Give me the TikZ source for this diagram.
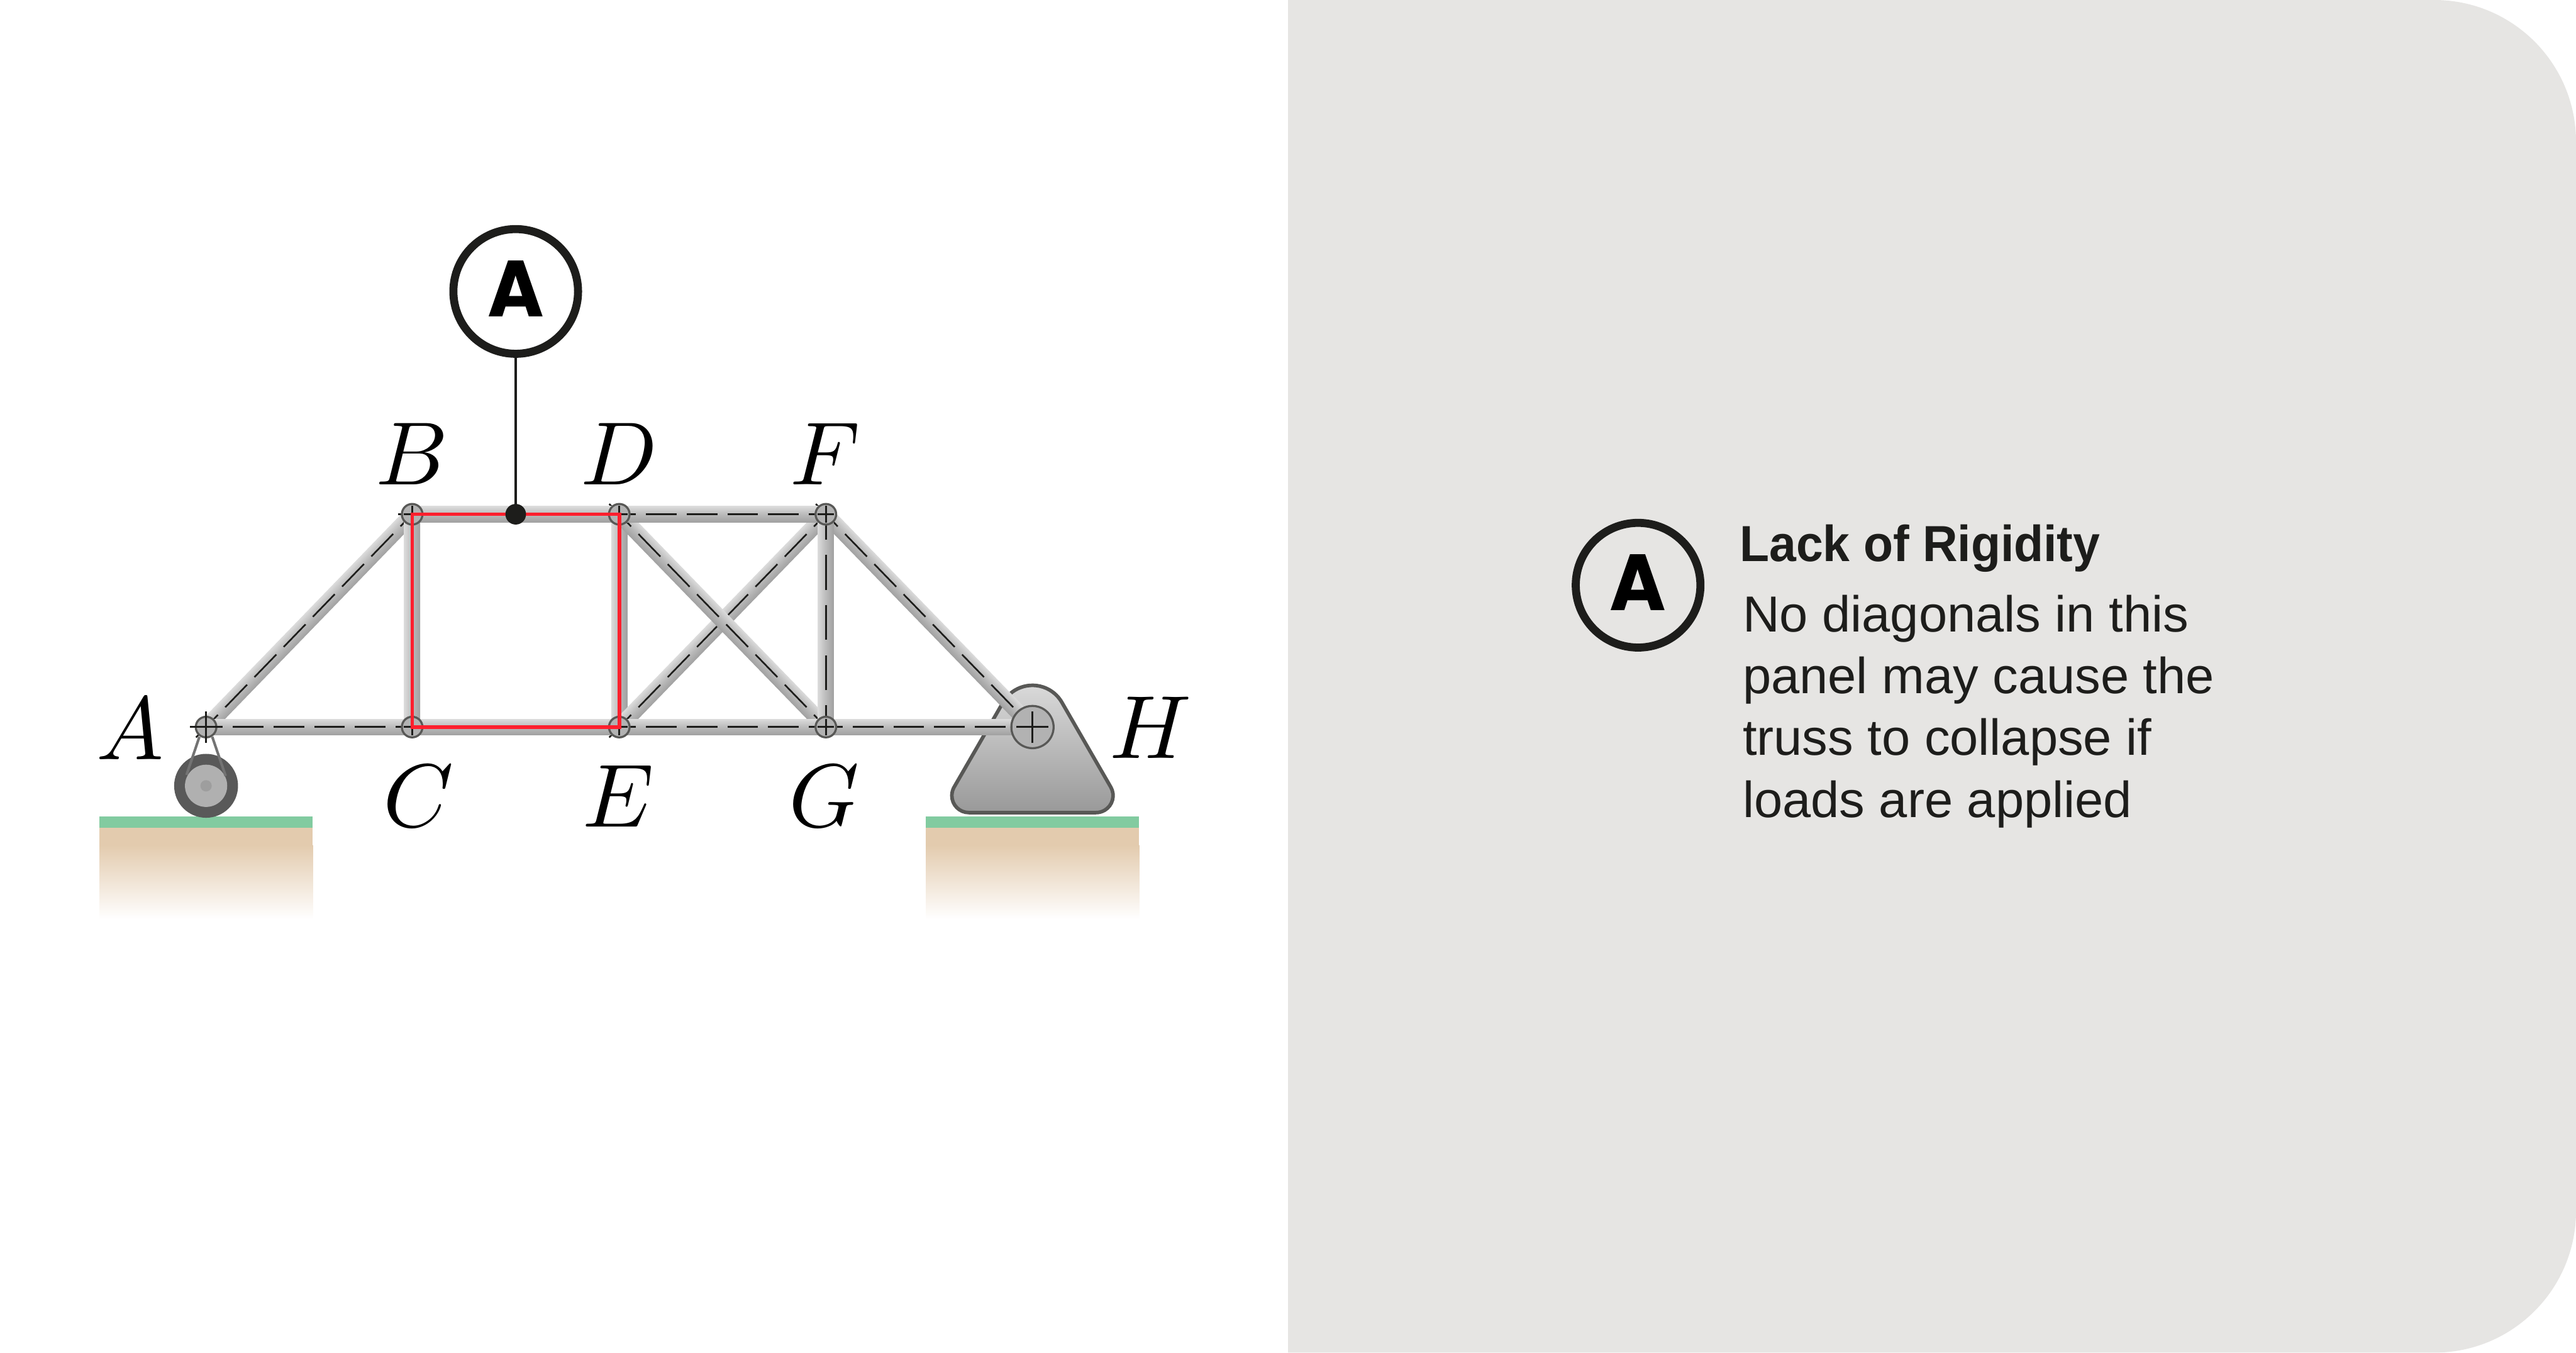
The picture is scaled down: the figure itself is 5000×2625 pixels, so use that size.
\documentclass[tikz,border=0pt]{standalone}
\usepackage{fontspec}
\setmainfont[FakeStretch=1.008]{Liberation Sans}
\newfontfamily\badgefont[FakeStretch=0.96]{Poppins}
\newfontfamily\titlefont[FakeStretch=0.955]{Liberation Sans}
\usetikzlibrary{calc}
\definecolor{inkline}{HTML}{1D1D1B}
\definecolor{steeledge}{HTML}{585856}
\definecolor{panelgray}{HTML}{E6E5E3}
\definecolor{grasstop}{HTML}{82CBA0}
\definecolor{soiltop}{HTML}{E3CBAE}
\definecolor{redpanel}{HTML}{FF1F2D}
\tikzset{
  strut/.style = {rectangle, minimum height=3.1mm, inner sep=0pt, outer sep=0pt, anchor=west,
    top color=black!14, bottom color=black!37, middle color=black!27},
  chordline/.style = {draw=inkline, line width=0.36mm, dash pattern=on 5.95mm off 1.95mm, shorten <=-2.7mm},
  postline/.style = {draw=inkline, line width=0.36mm, dash pattern=on 6.8mm off 2.95mm, shorten <=-1.9mm},
  diagline/.style = {draw=inkline, line width=0.32mm, dash pattern=on 6.1mm off 2.05mm, shorten <=-2.8mm},
  joint/.style = {circle, draw=steeledge, fill=black!30, line width=0.4mm, minimum size=4mm, inner sep=0pt},
  letter/.style = {anchor=base, inner sep=0pt, scale=4.95},
  badge/.style = {circle, draw=inkline, line width=1.56mm, minimum size=24.2mm, inner sep=0pt, text=black,
    text height=30.4pt, text depth=2.8pt},
  badgetext/.style = {font=\badgefont\bfseries\fontsize{44}{44}\selectfont},
  bodytext/.style = {anchor=base west, inner sep=0pt, text=inkline, font=\fontsize{28}{34}\selectfont}
}
\newcommand{\member}[3]{%
  \path let \p1 = ($(#2)-(#1)$), \n1 = {atan2(\y1,\x1)}, \n2 = {veclen(\x1,\y1)} in
    \pgfextra{\xdef\strutangle{\n1}\xdef\strutlength{\n2}};
  \begin{scope}[transform canvas={shift={(#1)}, rotate=\strutangle}]
    \node[strut, minimum width=\strutlength] (#1#2) at (0,0) {};
  \end{scope}
  \draw[#3] (#1) -- (#2);
}
\begin{document}
\begin{tikzpicture}[x=0.1mm, y=0.1mm]
  \useasboundingbox (0,0) rectangle (5000,-2625);
  \fill[panelgray] (2500,0) -- (4725,0) arc[start angle=90, end angle=0, radius=275]
    -- (5000,-2350) arc[start angle=0, end angle=-90, radius=275] -- (2500,-2625) -- cycle;

  \coordinate (A) at (400,-1411);
  \coordinate (B) at (800,-998);
  \coordinate (C) at (800,-1411);
  \coordinate (D) at (1202,-998);
  \coordinate (E) at (1202,-1411);
  \coordinate (F) at (1603,-998);
  \coordinate (G) at (1603,-1411);
  \coordinate (H) at (2004,-1411);

  % ground
  \foreach \x in {193,1797} {
    \fill[soiltop] (\x,-1606) rectangle ++(414,-36);
    \shade[top color=soiltop, bottom color=white] (\x,-1640) rectangle ++(414,-144);
    \fill[grasstop] (\x,-1584.5) rectangle ++(414,-22);
  }

  % roller
  \fill[black!65] (400,-1525) circle (62);
  \fill[black!31] (400,-1525) circle (41);
  \fill[black!38] (400,-1525) circle (11);
  \draw[black!55, line width=0.5mm] (387,-1430) -- (362,-1504) (412,-1430) -- (438,-1506);

  % pin support
  \draw[draw=steeledge, line width=0.7mm, top color=black!14, bottom color=black!40]
    (1880.5,-1577) arc[start angle=270, end angle=150, radius=33] -- (1947,-1362.9)
    arc[start angle=150, end angle=30, radius=65.8] -- (2156,-1527.5)
    arc[start angle=30, end angle=-90, radius=33] -- cycle;

  \member{E}{D}{draw=none}
  \draw[postline] (D) -- (E);
  \member{A}{B}{diagline}
  \member{E}{F}{diagline}
  \member{D}{G}{diagline}
  \member{F}{H}{diagline}
  \member{C}{B}{draw=none}
  \draw[postline] (B) -- (C);
  \member{G}{F}{draw=none}
  \draw[postline] (F) -- (G);
  \member{A}{C}{chordline}
  \member{C}{E}{chordline}
  \member{E}{G}{chordline}
  \member{G}{H}{chordline}
  \member{B}{D}{chordline}
  \member{D}{F}{chordline}

  \foreach \j in {B,C,D,E,F,G} {
    \node[joint] (pin\j) at (\j) {};
    \draw[inkline, line width=0.36mm] ($(\j)+(-16,0)$) -- ($(\j)+(16,0)$) ($(\j)+(0,-16)$) -- ($(\j)+(0,16)$);
  }
  \node[joint] (pinA) at (A) {};
  \draw[inkline, line width=0.36mm] ($(A)+(-31,0)$) -- ($(A)+(31,0)$) ($(A)+(0,-31)$) -- ($(A)+(0,31)$);
  \node[joint, minimum size=8.2mm] (pinH) at (H) {};
  \draw[inkline, line width=0.36mm] ($(H)+(-31,0)$) -- ($(H)+(31,0)$) ($(H)+(0,-31)$) -- ($(H)+(0,31)$);

  % panel without diagonals
  \draw[redpanel, line width=0.7mm] (B) -- (D) -- (E) -- (C) -- cycle;

  % labels
  \node[letter] (labA) at (253,-1474) {$A$};
  \node[letter] (labB) at (800,-940) {$B$};
  \node[letter] (labC) at (812,-1604) {$C$};
  \node[letter] (labD) at (1202,-940) {$D$};
  \node[letter] (labE) at (1200,-1604) {$E$};
  \node[letter] (labF) at (1602,-940) {$F$};
  \node[letter] (labG) at (1600,-1604) {$G$};
  \node[letter] (labH) at (2233,-1471) {$H$};

  % callout
  \coordinate (tip) at (1001,-998);
  \node[badge, fill=white, badgetext] (callA) at (1001,-565.6) {A};
  \draw[inkline, line width=0.5mm] (callA) -- (tip);
  \fill[inkline] (tip) circle (20);

  % legend
  \node[badge, badgetext] (keyA) at (3179.5,-1135.7) {A};
  \node[bodytext, font=\titlefont\bfseries\fontsize{28}{34}\selectfont] (title) at (3376,-1090) {Lack of Rigidity};
  \node[bodytext] (line1) at (3382,-1226) {No diagonals in this};
  \node[bodytext] (line2) at (3382,-1346) {panel may cause the};
  \node[bodytext] (line3) at (3382,-1466) {truss to collapse if};
  \node[bodytext] (line4) at (3382,-1586) {loads are applied};
\end{tikzpicture}
\end{document}
